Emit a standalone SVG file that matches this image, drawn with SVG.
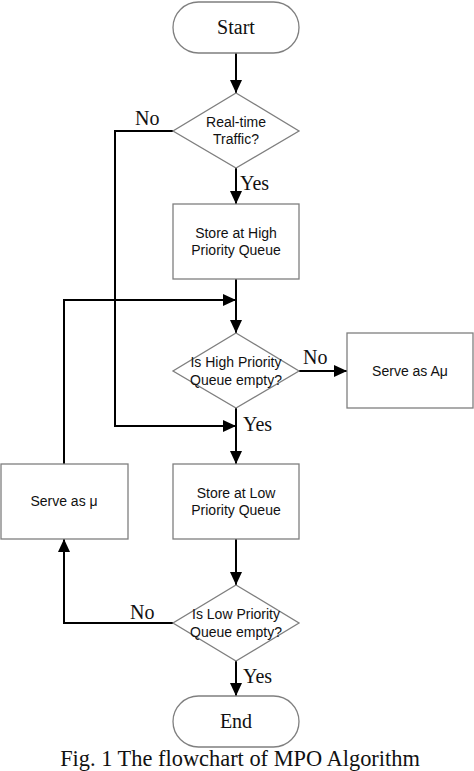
<svg xmlns="http://www.w3.org/2000/svg" width="474" height="771" viewBox="0 0 474 771">
<style>
.shape{fill:#fff;stroke:#7f7f7f;stroke-width:1.3}
.lbl{font-family:"Liberation Sans",Arial,sans-serif;font-size:14px;fill:#111;text-anchor:middle}
.tm{font-family:"Liberation Serif","Times New Roman",serif;font-size:20px;fill:#111}
.conn{fill:none;stroke:#000;stroke-width:2}
</style>
<defs>
<marker id="ah" markerUnits="userSpaceOnUse" markerWidth="14" markerHeight="12" refX="13" refY="6" orient="auto">
<path d="M0,0 L13,6 L0,12 z" fill="#000"/>
</marker>
</defs>
<rect width="474" height="771" fill="#fff"/>
<g id="connectors">
<path class="conn" d="M236,53 V93" marker-end="url(#ah)"/>
<path class="conn" d="M236,168 V204" marker-end="url(#ah)"/>
<path class="conn" d="M236,279 V333" marker-end="url(#ah)"/>
<path class="conn" d="M64,464 V300 H236" marker-end="url(#ah)"/>
<path class="conn" d="M173,131 H115 V426 H236" marker-end="url(#ah)"/>
<path class="conn" d="M299,371 H347" marker-end="url(#ah)"/>
<path class="conn" d="M236,408 V464" marker-end="url(#ah)"/>
<path class="conn" d="M236,539 V585" marker-end="url(#ah)"/>
<path class="conn" d="M173,623 H64 V539" marker-end="url(#ah)"/>
<path class="conn" d="M236,661 V696" marker-end="url(#ah)"/>
<text class="tm" x="135" y="125">No</text>
<text class="tm" x="240" y="190">Yes</text>
<text class="tm" x="303" y="364">No</text>
<text class="tm" x="243" y="431">Yes</text>
<text class="tm" x="130" y="619">No</text>
<text class="tm" x="243" y="683">Yes</text>
</g>
<g id="start">
<rect class="shape" x="173" y="2" width="126" height="51" rx="25.5"/>
<text class="tm" x="236" y="34" text-anchor="middle">Start</text>
</g>
<g id="realtime">
<polygon class="shape" points="236,93 299,131 236,168 173,131"/>
<text class="lbl" x="236" y="127">Real-time</text>
<text class="lbl" x="236" y="144">Traffic?</text>
</g>
<g id="storehigh">
<rect class="shape" x="173" y="204" width="126" height="75"/>
<text class="lbl" x="236" y="238">Store at High</text>
<text class="lbl" x="236" y="255">Priority Queue</text>
</g>
<g id="highempty">
<polygon class="shape" points="236,333 299,371 236,408 173,371"/>
<text class="lbl" x="236" y="367">Is High Priority</text>
<text class="lbl" x="236" y="385">Queue empty?</text>
</g>
<g id="serveamu">
<rect class="shape" x="347" y="333" width="126" height="75"/>
<text class="lbl" x="410" y="376">Serve as Aμ</text>
</g>
<g id="storelow">
<rect class="shape" x="173" y="464" width="126" height="75"/>
<text class="lbl" x="236" y="498">Store at Low</text>
<text class="lbl" x="236" y="515">Priority Queue</text>
</g>
<g id="servemu">
<rect class="shape" x="1" y="464" width="127" height="75"/>
<text class="lbl" x="64" y="506">Serve as μ</text>
</g>
<g id="lowempty">
<polygon class="shape" points="236,585 299,623 236,661 173,623"/>
<text class="lbl" x="236" y="619">Is Low Priority</text>
<text class="lbl" x="236" y="637">Queue empty?</text>
</g>
<g id="end">
<rect class="shape" x="173" y="696" width="126" height="51" rx="25.5"/>
<text class="tm" x="236" y="728" text-anchor="middle">End</text>
</g>
<text class="tm" x="240" y="766" text-anchor="middle" style="font-size:22.4px">Fig. 1 The flowchart of MPO Algorithm</text>
</svg>
